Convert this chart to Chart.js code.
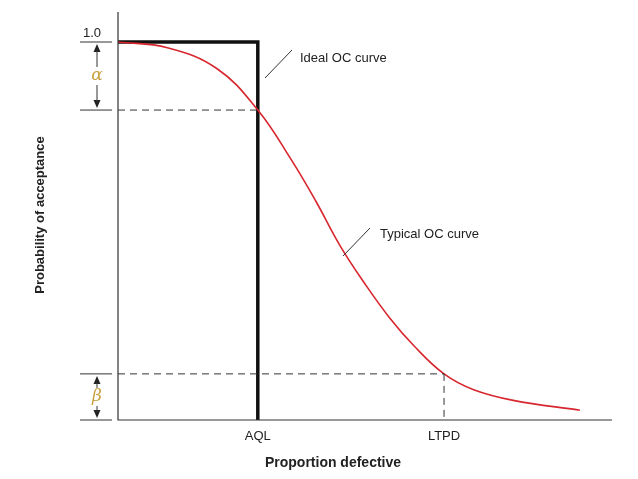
<!DOCTYPE html>
<html><head><meta charset="utf-8">
<script src="https://cdn.jsdelivr.net/npm/chart.js@4"></script>
<style>html,body{margin:0;padding:0;background:#fff}#w{width:638px;height:479px}</style>
</head><body><div id="w"><canvas id="c"></canvas></div>
<script>
const AQL = 28.3, LTPD = 66.0, ALPHA_P = 0.82, BETA_P = 0.122;
const typicalX = [0, 10, 20, 28.3, 35, 40, 45, 50, 55, 60, 66, 72, 80, 93.5];
const typicalY = [1.0, 0.985, 0.93, 0.82, 0.69, 0.58, 0.46, 0.36, 0.27, 0.195, 0.122, 0.08, 0.052, 0.026];
const idealX = [0, 28.3, 28.3];
const idealY = [1.0, 1.0, 0];
const tickLabels = ['AQL', 'LTPD'];

const pts = (xs, ys) => xs.map((x, i) => ({x, y: ys[i]}));
const deco = {
  id: 'deco',
  afterDatasetsDraw(ch) {
    const c = ch.ctx, X = ch.scales.x, Y = ch.scales.y;
    const px = v => X.getPixelForValue(v), py = v => Y.getPixelForValue(v);
    c.save();
    c.strokeStyle = '#333'; c.lineWidth = 1.2;
    c.beginPath(); c.moveTo(px(0), ch.chartArea.top); c.lineTo(px(0), py(0)); c.lineTo(ch.chartArea.right, py(0)); c.stroke();
    c.setLineDash([7, 5]); c.lineWidth = 1;
    c.beginPath(); c.moveTo(px(0), py(ALPHA_P)); c.lineTo(px(AQL), py(ALPHA_P));
    c.moveTo(px(0), py(BETA_P)); c.lineTo(px(LTPD), py(BETA_P));
    c.moveTo(px(LTPD), py(BETA_P)); c.lineTo(px(LTPD), py(0)); c.stroke();
    c.setLineDash([]);
    c.lineWidth = 1;
    [1.0, ALPHA_P, BETA_P, 0].forEach(v => { c.beginPath(); c.moveTo(80, py(v)); c.lineTo(112, py(v)); c.stroke(); });
    const arrow = (yTop, yBot, sym) => {
      const x = 97, mid = (yTop + yBot) / 2;
      c.fillStyle = '#222'; c.beginPath();
      c.moveTo(x, yTop + 2); c.lineTo(x - 3.5, yTop + 10); c.lineTo(x + 3.5, yTop + 10); c.fill();
      c.beginPath(); c.moveTo(x, yBot - 2); c.lineTo(x - 3.5, yBot - 10); c.lineTo(x + 3.5, yBot - 10); c.fill();
      c.beginPath(); c.moveTo(x, yTop + 8); c.lineTo(x, mid - 9); c.moveTo(x, mid + 9); c.lineTo(x, yBot - 8); c.stroke();
      c.fillStyle = '#c9a040'; c.font = 'italic 17px "DejaVu Serif"'; c.textAlign = 'center'; c.textBaseline = 'middle';
      c.fillText(sym, x, mid);
    };
    arrow(py(1.0), py(ALPHA_P), 'α');
    arrow(py(BETA_P), py(0), 'β');
    c.fillStyle = '#222'; c.font = '13px "Liberation Sans"'; c.textAlign = 'center'; c.textBaseline = 'alphabetic';
    c.fillText('1.0', 92, 37);
    [AQL, LTPD].forEach((v, i) => c.fillText(tickLabels[i], px(v), 440));
    c.font = 'bold 14px "Liberation Sans"';
    c.fillText('Proportion defective', 333, 467);
    c.save(); c.translate(44, 215); c.rotate(-Math.PI / 2);
    c.font = 'bold 13px "Liberation Sans"'; c.fillText('Probability of acceptance', 0, 0); c.restore();
    c.textAlign = 'left'; c.font = '13px "Liberation Sans"';
    c.fillText('Ideal OC curve', 300, 62);
    c.fillText('Typical OC curve', 380, 238);
    c.lineWidth = 1; c.beginPath(); c.moveTo(265, 78); c.lineTo(292, 50); c.moveTo(343, 256); c.lineTo(370, 228); c.stroke();
    c.restore();
  }
};
new Chart(document.getElementById('c'), {
  type: 'scatter',
  data: { datasets: [
    { data: pts(typicalX, typicalY), showLine: true, borderColor: '#d8262e', borderWidth: 1.6, pointRadius: 0, tension: 0.4 },
    { data: pts(idealX, idealY), showLine: true, borderColor: '#111', borderWidth: 3.5, pointRadius: 0, tension: 0 }
  ]},
  options: {
    responsive: true, maintainAspectRatio: false, animation: false,
    layout: { padding: { left: 118, right: 26, top: 12, bottom: 59 } },
    plugins: { legend: { display: false }, tooltip: { enabled: false } },
    scales: {
      x: { type: 'linear', min: 0, max: 100, display: false },
      y: { min: 0, max: 1.0794, display: false }
    }
  },
  plugins: [deco]
});
</script></body></html>
